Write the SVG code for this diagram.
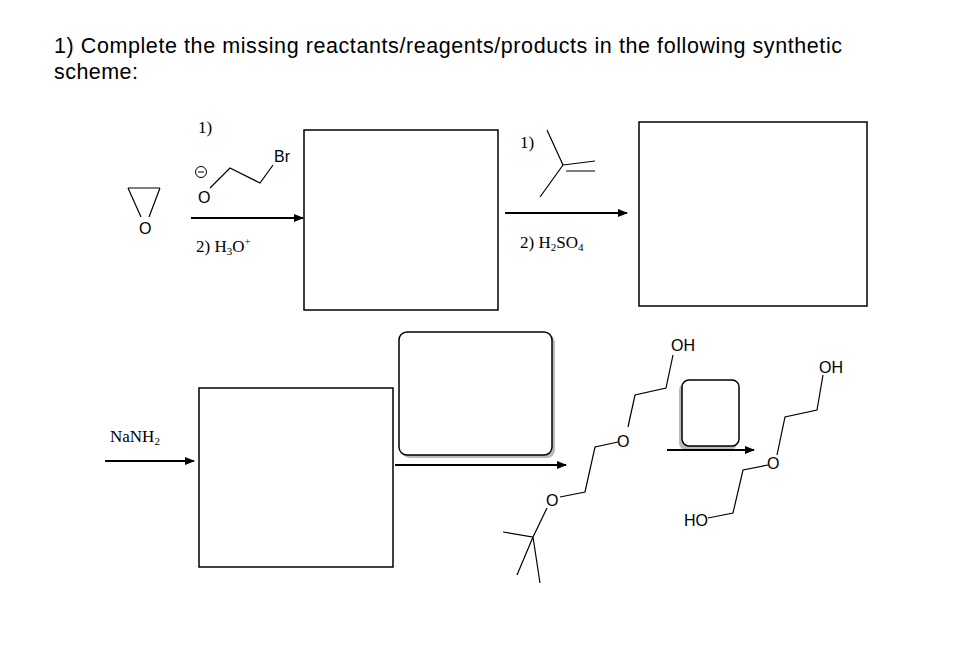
<svg xmlns="http://www.w3.org/2000/svg" width="964" height="645" viewBox="0 0 964 645">
<defs>
<marker id="ah" markerWidth="10" markerHeight="8" refX="9" refY="4" orient="auto" markerUnits="userSpaceOnUse"><path d="M0,0 L10,4 L0,8 z" fill="#000"/></marker>
</defs>
<style>
.t{font-family:"Liberation Sans",Arial,sans-serif;font-size:21.5px}
.s{font-family:"Liberation Serif",serif;font-size:17px}
.a{font-family:"Liberation Sans",Arial,sans-serif;font-size:16px}
.b{fill:none;stroke:#000;stroke-width:1.2}
.box{fill:#fff;stroke:#000;stroke-width:1.5}
.ar{stroke:#000;stroke-width:1.8;marker-end:url(#ah)}
</style>
<rect width="964" height="645" fill="#fff"/>
<text class="t" x="54" y="53" textLength="788" lengthAdjust="spacing">1) Complete the missing reactants/reagents/products in the following synthetic</text>
<text class="t" x="54" y="79" textLength="84" lengthAdjust="spacing">scheme:</text>
<g id="epoxide">
<path class="b" d="M128,188 L160,188 M128,188 L141,217 M160,188 L149,217" stroke-width="1.5"/>
<text class="a" x="139" y="234">O</text>
</g>
<g id="reagent1">
<text class="s" x="198" y="133">1)</text>
<circle cx="201" cy="172" r="5.5" fill="none" stroke="#000" stroke-width="1"/>
<line x1="198" y1="172" x2="204" y2="172" stroke="#000" stroke-width="1"/>
<text class="a" x="198" y="203">O</text>
<path class="b" d="M210,188 L230,168 L260,183 L273,165"/>
<text class="a" x="274" y="162">Br</text>
<text class="s" x="196" y="252">2) H<tspan font-size="11" dy="3">3</tspan><tspan dy="-3">O</tspan><tspan font-size="11" dy="-7">+</tspan></text>
</g>
<g id="box1"><rect class="box" x="304" y="130" width="194" height="180"/></g>
<g id="reagent2">
<text class="s" x="520" y="148">1)</text>
<path class="b" d="M547,130 L563,165 L540,197 M563,165 L595,161 M566,171 L595,171"/>
<text class="s" x="520" y="248">2) H<tspan font-size="11" dy="3">2</tspan><tspan dy="-3">SO</tspan><tspan font-size="11" dy="3">4</tspan></text>
</g>
<g id="box2"><rect class="box" x="639" y="122" width="228" height="184"/></g>
<g id="nanh2"><text class="s" x="110" y="442">NaNH<tspan font-size="11" dy="3">2</tspan></text></g>
<g id="box3"><rect class="box" x="199" y="388" width="194" height="179"/></g>
<g id="box4">
<rect x="402" y="335" width="153" height="123" rx="8" fill="#bbb"/>
<rect class="box" x="399" y="332" width="153" height="123" rx="8"/>
</g>
<g id="box5">
<rect x="679" y="383" width="58" height="67" rx="7" fill="#bbb"/>
<rect class="box" x="682" y="380" width="57" height="66" rx="7"/>
</g>
<g id="mol1">
<text class="a" x="671" y="351">OH</text>
<path class="b" d="M673,355 L666,388 L635,395 L628,427 M618,442 L595,447 L585,492 L560,497 M547,508 L533,537 L503,532 M533,537 L517,575 M533,537 L540,583"/>
<text class="a" x="617" y="447">O</text>
<text class="a" x="546" y="506">O</text>
</g>
<g id="mol2">
<text class="a" x="819" y="373">OH</text>
<path class="b" d="M823,375 L817,410 L785,417 L777,455 M768,465 L743,470 L733,513 L708,518"/>
<text class="a" x="767" y="469">O</text>
<text class="a" x="684" y="526">HO</text>
</g>
<g id="connectors">
<line class="ar" x1="191" y1="218" x2="303" y2="218"/>
<line class="ar" x1="505" y1="213" x2="627" y2="213"/>
<line class="ar" x1="105" y1="461" x2="194" y2="461"/>
<line class="ar" x1="395" y1="465" x2="566" y2="465"/>
<line class="ar" x1="667" y1="450" x2="754" y2="450"/>
</g>
</svg>
